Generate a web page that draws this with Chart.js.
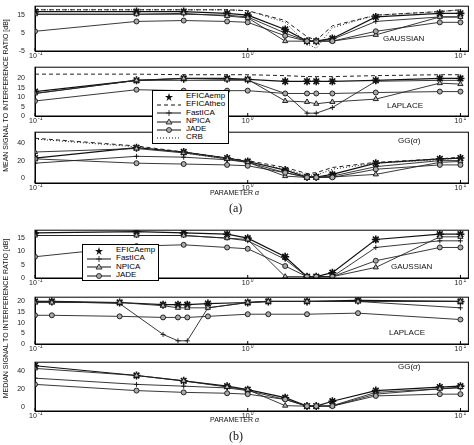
<!DOCTYPE html>
<html><head><meta charset="utf-8">
<script src="https://cdn.jsdelivr.net/npm/chart.js@4"></script>
<style>
body{margin:0;background:#fff;width:474px;height:445px;position:relative;overflow:hidden;font-family:"Liberation Sans",Arial,sans-serif}
canvas{position:absolute;left:0}
.t{position:absolute;font-size:8px;color:#111;white-space:nowrap}
.leg{position:absolute;background:#fff;border:1px solid #000;font-size:8px;padding:1px 3px;color:#000}
.leg div{height:8.3px;line-height:8.3px;display:flex;align-items:center}
.leg svg{margin-right:4px}
</style></head><body>
<script>
// alpha values (x)
const alphaA = [0.1,0.3,0.5,0.8,1,1.5,1.9,2.1,2.5,4,8,10]
const alphaLapB = [0.1,0.12,0.25,0.4,0.47,0.52,0.65,1,1.25,1.9,3.3,10]

// (a) Gaussian
const gaA_emp = [17,17,17,16,15,7,0.5,0.5,2,14,16,16]
const gaA_theo = [18,18,18,18,17.5,12,3,1,9,15,17,18]
const gaA_fast = [15.5,15.5,15.5,15,14,5,0.5,0.5,1.5,11.5,14,14]
const gaA_npica = [15.5,15.5,16,14.5,13.5,0.5,0.5,0.5,0.5,4,14,14]
const gaA_jade = [6,11.5,12,11.5,11,3.5,0.5,0.5,0.5,6,11,11]
const gaA_crb = [18,18,18,18,17.5,11,-1,-3.5,8,15,17,18]
// (a) Laplace
const laA_emp = [13,19,20,20,19.5,18.5,18.5,18.5,18.5,19,20,20]
const laA_theo = [22.3,22.3,22,22,22,21.5,21,21,21,21.5,22,22]
const laA_fast = [12,19,19,19,19,12,1.5,1.5,4.5,18.5,19,19]
const laA_npica = [12,19,20,19.5,19.5,8,7.5,6.5,7.5,9,17.5,17]
const laA_jade = [8,14,13.5,13.5,13.5,12,12,12,12,12.5,13,13]
// (a) GG
const ggA_emp = [23,35,30,23,19,9,1,1,4,17,22,23]
const ggA_theo = [46,37,30,23,20,12,5,6,12,18,22,24]
const ggA_fast = [17,25,24,21,18,6,1,1,2,13,20,20]
const ggA_npica = [30,34,29,22,18,2,0.5,0.5,1,4,18,19]
const ggA_jade = [22,17,16,15,14,6,0.5,0.5,0.5,10,15,15]
const ggA_crb = [45,36,29,22,19,10,3,3,10,17,21,23]
// (b) Gaussian
const gaB_emp = [17,17.5,17,16.5,15,8,0.5,0.5,2,14.5,16.5,16.5]
const gaB_fast = [16,16,16,15,14,7,0.5,0.5,0.5,11.5,14,14]
const gaB_npica = [16,16,16,15,14.5,0.5,0.5,0.5,0.5,4,15.5,15.5]
const gaB_jade = [8,12,12.5,11.5,11,4.5,0.5,0.5,0.5,6.5,11.5,11.5]
// (b) Laplace
const laB_emp = [20,20,19.5,18.5,18.5,18.5,19,19.5,20,20,20.5,20]
const laB_fast = [20,20,19,4.5,1.5,1.5,17,19.5,20,20,20,17]
const laB_npica = [19.5,19.5,19.5,18,17,17,17,19.5,20,20,20,20]
const laB_jade = [13.5,13.5,13,12.5,12.5,12.5,13,14,14,14,14.5,11.5]
// (b) GG
const ggB_emp = [46,35,29,23,19,10,0.5,0.5,6,18,22,23]
const ggB_fast = [32,25,23,21,18,8,0.5,0.5,1,16,20,21]
const ggB_npica = [43,35,29,22,19,1,0.5,0.5,0.5,14,20,22]
const ggB_jade = [25,18,16,15,14,8,0.5,0.5,0.5,12,14,14]

// tick labels
const xTicks = [0.1, 1, 10]
const yTicksGaA = [-5,0,5,10,15,20]
const yTicksLap = [0,5,10,15,20]
const yTicksGG = [0,10,20,30,40,50]
const yTicksGaB = [0,5,10,15]

const styles = {
    emp: {pointStyle:"star", pointRadius:4, borderWidth:1.2, borderColor:"#111", pointBorderWidth:1.6},
    theo: {pointRadius:0, borderDash:[4,3], borderWidth:1, borderColor:"#222"},
    fast: {pointStyle:"cross", pointRadius:2.5, borderWidth:0.9, borderColor:"#222"},
    npica: {pointStyle:"triangle", pointRadius:3, borderWidth:0.9, borderColor:"#222", pointBackgroundColor:"#bbb"},
    jade: {pointStyle:"circle", pointRadius:2.5, borderWidth:0.9, borderColor:"#222", pointBackgroundColor:"#aaa"},
    crb: {pointRadius:0, borderDash:[1,2], borderWidth:1, borderColor:"#222"}
}

function panel(top, height, xs, series, yMin, yMax, yTicks) {
    const c = document.createElement("canvas")
    c.width = 474; c.height = height
    c.style.top = top + "px"
    document.body.appendChild(c)
    new Chart(c, {
        type: "line",
        data: {
            datasets: series.map(([k, v]) => Object.assign({
                data: v.map((y, i) => ({x: xs[i], y: y})),
                tension: 0, fill: false, pointBorderColor: "#111"
            }, styles[k]))
        },
        options: {
            responsive: false, animation: false,
            layout: {padding: {top: 1, right: 1, left: 0, bottom: 0}},
            plugins: {legend: {display: false}, tooltip: {enabled: false}},
            scales: {
                x: {
                    type: "logarithmic", min: 0.1, max: 10.9,
                    afterFit: s => { s.height = 10 },
                    grid: {display: false},
                    border: {color: "#000"},
                    ticks: {display: false}
                },
                y: {
                    min: yMin, max: yMax,
                    afterFit: s => { s.width = 35 },
                    afterBuildTicks: s => { s.ticks = yTicks.map(v => ({value: v})) },
                    grid: {display: false},
                    border: {color: "#000"},
                    ticks: {padding: 2, color: "#222", font: {size: 7}}
                }
            }
        },
        plugins: [{
            id: "box",
            afterDraw(ch) {
                const a = ch.chartArea, g = ch.ctx, sx = ch.scales.x
                g.save(); g.strokeStyle = "#000"; g.lineWidth = 1
                g.strokeRect(a.left, a.top, a.right - a.left, a.bottom - a.top)
                g.fillStyle = "#222"; g.textAlign = "center"; g.textBaseline = "top"
                xTicks.forEach(v => {
                    const px = sx.getPixelForValue(v)
                    const e = Math.round(Math.log10(v))
                    g.font = "7px 'Liberation Sans'"
                    g.fillText("10", px - 2, a.bottom + 2)
                    g.font = "5px 'Liberation Sans'"
                    g.textAlign = "left"
                    g.fillText(String(e), px + 3, a.bottom + 0.5)
                    g.textAlign = "center"
                    // inward tick marks
                    g.beginPath(); g.moveTo(px, a.bottom); g.lineTo(px, a.bottom - 3); g.stroke()
                })
                g.restore()
            }
        }]
    })
}

panel(0, 61, alphaA, [["theo",gaA_theo],["crb",gaA_crb],["jade",gaA_jade],["npica",gaA_npica],["fast",gaA_fast],["emp",gaA_emp]], -5, 20, yTicksGaA)
panel(61, 65, alphaA, [["theo",laA_theo],["jade",laA_jade],["npica",laA_npica],["fast",laA_fast],["emp",laA_emp]], 0, 26, yTicksLap)
panel(126, 67, alphaA, [["theo",ggA_theo],["crb",ggA_crb],["jade",ggA_jade],["npica",ggA_npica],["fast",ggA_fast],["emp",ggA_emp]], -6, 53, yTicksGG)
panel(224, 64, alphaA, [["jade",gaB_jade],["npica",gaB_npica],["fast",gaB_fast],["emp",gaB_emp]], 0, 18, yTicksGaB)
panel(291, 63, alphaLapB, [["jade",laB_jade],["npica",laB_npica],["fast",laB_fast],["emp",laB_emp]], 0, 22, yTicksLap)
panel(356, 65, alphaA, [["jade",ggB_jade],["npica",ggB_npica],["fast",ggB_fast],["emp",ggB_emp]], -5, 50, yTicksGG)

function sample(k) {
    const dash = k === "theo" ? 'stroke-dasharray="4,3"' : k === "crb" ? 'stroke-dasharray="1,2"' : ""
    let m = ""
    if (k === "emp") m = '<path d="M13 1L14 4H17L14.5 6L15.5 9L13 7L10.5 9L11.5 6L9 4H12Z" fill="#111"/>'
    if (k === "fast") m = '<path d="M13 2v6M10 5h6" stroke="#111" stroke-width="0.8"/>'
    if (k === "npica") m = '<path d="M13 2L16 7H10Z" fill="#bbb" stroke="#111" stroke-width="0.8"/>'
    if (k === "jade") m = '<circle cx="13" cy="5" r="2.5" fill="#aaa" stroke="#111" stroke-width="0.8"/>'
    const line = k === "emp" ? "" : `<line x1="1" y1="5" x2="25" y2="5" stroke="#111" stroke-width="1" ${dash}/>`
    return `<svg width="26" height="9">${line}${m}</svg>`
}
function legend(left, top, items) {
    const d = document.createElement("div")
    d.className = "leg"
    d.style.left = left + "px"; d.style.top = top + "px"
    d.innerHTML = items.map(([k, n]) => `<div>${sample(k)}<span style="color:#000">${n}</span></div>`).join("")
    document.body.appendChild(d)
}
function text(x, y, s, extra) {
    const d = document.createElement("div")
    d.className = "t"; d.style.left = x + "px"; d.style.top = y + "px"
    d.innerHTML = s
    if (extra) d.style.cssText += extra
    document.body.appendChild(d)
}
legend(152, 90, [["emp","EFICAemp"],["theo","EFICAtheo"],["fast","FastICA"],["npica","NPICA"],["jade","JADE"],["crb","CRB"]])
legend(82, 244, [["emp","EFICAemp"],["fast","FastICA"],["npica","NPICA"],["jade","JADE"]])
text(383, 34, "GAUSSIAN"); text(387, 101, "LAPLACE"); text(398, 136, "GG(<i>α</i>)")
text(391, 262, "GAUSSIAN"); text(389, 328, "LAPLACE"); text(398, 362, "GG(<i>α</i>)")
text(210, 189, "PARAMETER <i>α</i>", "font-size:7px")
text(210, 416, "PARAMETER <i>α</i>", "font-size:7px")
text(229, 201, "(a)", "font-family:'Liberation Serif',serif;font-size:12px")
text(229, 429, "(b)", "font-family:'Liberation Serif',serif;font-size:12px")
text(-80, 92, "MEAN SIGNAL TO INTERFERENCE RATIO [dB]", "font-size:7px;transform:rotate(-90deg);width:170px;text-align:center")
text(-80, 315, "MEDIAN SIGNAL TO INTERFERENCE RATIO [dB]", "font-size:7px;transform:rotate(-90deg);width:170px;text-align:center")
</script>
</body></html>
